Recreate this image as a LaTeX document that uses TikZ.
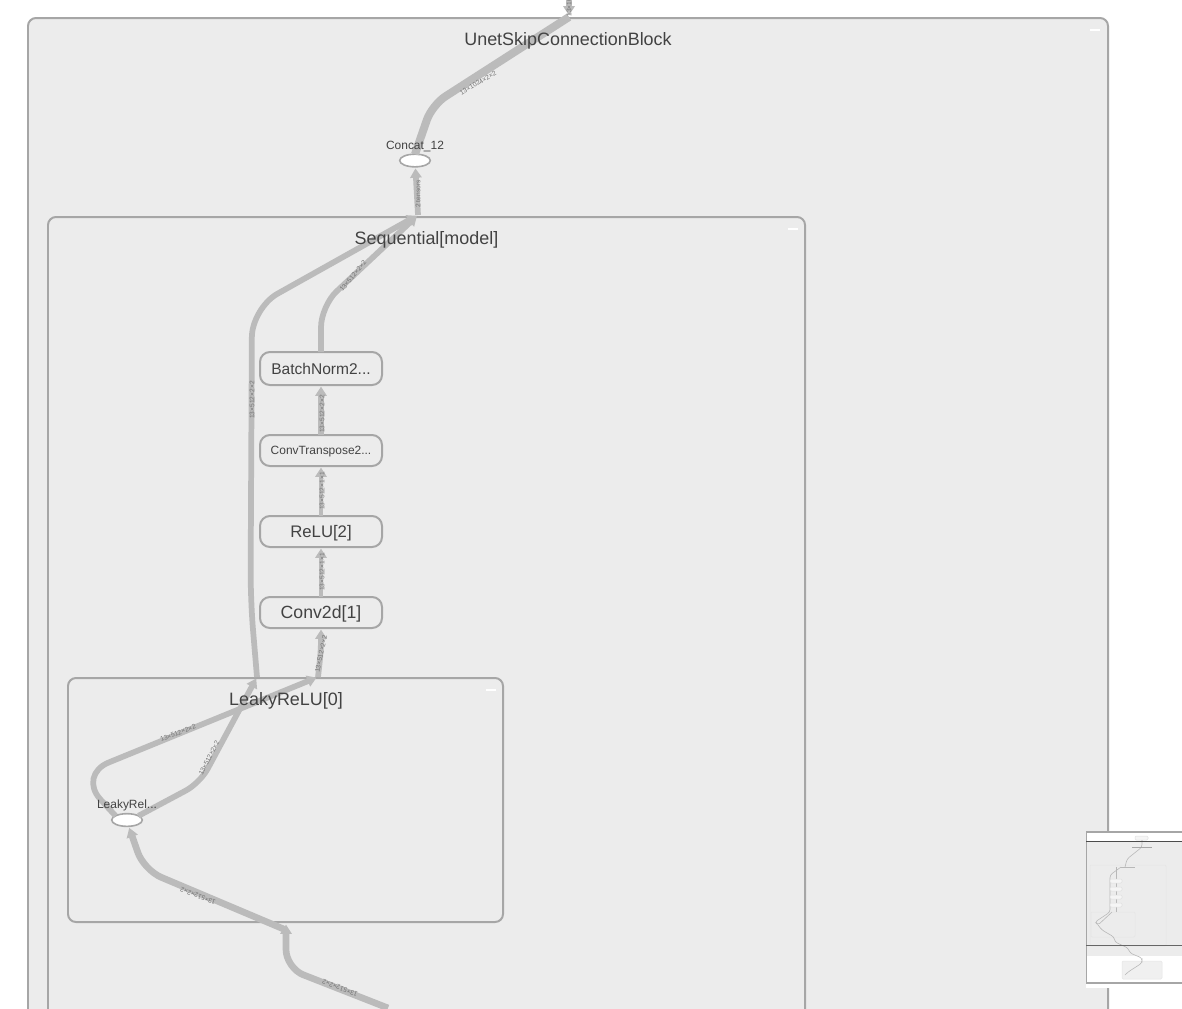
\documentclass[tikz,border=0pt]{standalone}
\usepackage{fontspec}
\setmainfont{Liberation Sans}
\usepackage{tikz}
\usetikzlibrary{positioning,shapes,arrows,arrows.meta,decorations.markings}
\definecolor{blockgray}{HTML}{ECECEC}
\definecolor{edgegray}{HTML}{BBBBBB}
\definecolor{bordergray}{HTML}{A6A6A6}
\definecolor{textgray}{HTML}{424242}
\newcommand{\midcap}[1]{\raisebox{-0.36em}[0pt][0pt]{#1}}
\tikzset{
	block/.style={draw=bordergray, fill=blockgray, line width=1.5pt, rounded corners=6pt, inner sep=0pt, outer sep=0pt, anchor=north west},
	layer/.style={block, rounded corners=7.5pt, minimum width=91.5bp, minimum height=23.25bp, text=textgray},
	opnode/.style={ellipse, draw=bordergray, fill=white, line width=1.2pt, minimum width=23bp, minimum height=9.5bp, inner sep=0pt, outer sep=0pt},
	title/.style={text=textgray, font=\fontsize{13.5}{14}\selectfont, inner sep=0pt},
	oplabel/.style={text=textgray, font=\fontsize{9}{10}\selectfont, inner sep=0pt},
	tensor/.style={text=black!55, font=\fontsize{5}{5}\selectfont, inner sep=0pt},
	collapse/.style={fill=white, inner sep=0pt, outer sep=0pt, minimum width=7bp, minimum height=1.5bp},
	flow/.style={draw=edgegray, line width=4.3bp, rounded corners=18pt},
	flowtip/.style={flow, shorten >=1.2pt, -{Triangle[length=7pt,width=8.5pt]}},
	minibox/.style={draw=black!10, fill=blockgray, line width=0.4pt, rounded corners=1pt},
	minipill/.style={draw=black!12, fill=black!4, line width=0.4pt, rounded corners=1pt},
	miniedge/.style={draw=black!28, line width=0.45pt, rounded corners=2pt},
}
\begin{document}
\begin{tikzpicture}[x=0.75bp, y=-0.75bp]
	\useasboundingbox (0,0) rectangle (1182,1008);
	\clip (0,0) rectangle (1182,1008);
	\fill[white] (0,0) rectangle (1182,1008);

	% boxes
	\node[block, minimum width=810bp, minimum height=800bp] (Unet) at (28,18) {};
	\node[block, minimum width=567.75bp, minimum height=700bp] (Seq) at (48,217) {};
	\node[block, minimum width=326.25bp, minimum height=183bp] (Leaky) at (68,678) {};
	\node[collapse] (UnetMin) at (1095,30) {};
	\node[collapse] (SeqMin) at (793,229) {};
	\node[collapse] (LeakyMin) at (491,690) {};

	% layers
	\node[layer, minimum height=24.75bp, font=\fontsize{11.7}{12}\selectfont] (BatchNorm) at (260,352) {\midcap{BatchNorm2...}};
	\node[layer, font=\fontsize{9}{10}\selectfont] (ConvT) at (260,435) {\midcap{ConvTranspose2...}};
	\node[layer, font=\fontsize{12.6}{14}\selectfont] (ReLU) at (260,516) {\midcap{ReLU[2]}};
	\node[layer, font=\fontsize{13.3}{14}\selectfont] (Conv) at (260,597) {\midcap{Conv2d[1]}};
	\node[opnode] (Concat) at (415,160.5) {};
	\node[opnode] (LeakyOp) at (127,820) {};

	% ports on the box borders
	\coordinate (TopIn) at (569,0);
	\coordinate (UnetIn) at (569,17);
	\coordinate (SeqOut) at (418,215);
	\coordinate (LeakyOutA) at (257,677);
	\coordinate (LeakyOutB) at (318,677);
	\coordinate (LeakyIn) at (286,930);
	\coordinate (LeakyInTip) at (286,923);
	\coordinate (BottomIn) at (388,1008);

	% connectors
	\draw[flowtip] (TopIn) -- (UnetIn);
	\draw[flow, line width=6bp, rounded corners=12pt] (UnetIn) -- (432,105) -- (Concat.north);
	\draw[flowtip] (SeqOut) -- (Concat);
	\draw[flowtip, rounded corners=22pt] (LeakyOutA) -- (250.5,600) -- (252,308) -- (SeqOut);
	\draw[flowtip, rounded corners=16pt] (BatchNorm.north) -- (321,306) -- (SeqOut);
	\draw[flowtip] (ConvT) -- (BatchNorm);
	\draw[flowtip, line width=3bp] (ReLU) -- (ConvT);
	\draw[flowtip, line width=3bp] (Conv) -- (ReLU);
	\draw[flowtip, rounded corners=8pt] (LeakyOutB) -- (321,650) -- (Conv.south);
	\draw[flowtip, rounded corners=25pt] (LeakyOp.160) -- (78,775) -- (LeakyOutB);
	\draw[flowtip, rounded corners=12pt] (LeakyOp.20) -- (200,783) -- (LeakyOutA);
	\draw[flowtip, line width=5bp, rounded corners=14pt] (LeakyIn) -- (144,870) -- (LeakyOp.-75);
	\draw[flowtip, line width=5bp, rounded corners=14pt] (BottomIn) -- (286,968) -- (LeakyInTip);

	% titles
	\node[title] (UnetTitle) at (568,40.5) {UnetSkipConnectionBlock};
	\node[title] (SeqTitle) at (426.5,239.5) {Sequential[model]};
	\node[title] (LeakyTitle) at (286,700.5) {LeakyReLU[0]};
	\node[oplabel] (ConcatLabel) at (415,146.5) {Concat\_12};
	\node[oplabel] (LeakyOpLabel) at (127,805.5) {LeakyRel...};

	% tensor sizes
	\node[tensor, rotate=90] (SizeTop) at (569,-4) {13×1024×2×2};
	\node[tensor, rotate=31] (SizeUnet) at (478,83) {13×1024×2×2};
	\node[tensor, rotate=90] (SizeConcat) at (418,194) {2 tensors};
	\node[tensor, rotate=90] (SizeSkip) at (252,400) {13×512×2×2};
	\node[tensor, rotate=50] (SizeBatch) at (353,276) {13×512×2×2};
	\node[tensor, rotate=90] (SizeConvT) at (322,414) {13×512×2×2};
	\node[tensor, rotate=90] (SizeReLU) at (322,491) {13×512×1×1};
	\node[tensor, rotate=90] (SizeConv) at (322,572) {13×512×1×1};
	\node[tensor, rotate=78] (SizeLeakyA) at (321,654) {13×512×2×2};
	\node[tensor, rotate=21] (SizeOpA) at (178,733) {13×512×2×2};
	\node[tensor, rotate=63] (SizeOpB) at (209,758) {13×512×2×2};
	\node[tensor, rotate=158] (SizeIn) at (198,896) {13×512×2×2};
	\node[tensor, rotate=158] (SizeBottom) at (340,988) {13×512×2×2};

	% minimap
	\fill[white] (1086,832) rectangle (1182,988);
	\fill[blockgray] (1087,842) rectangle (1182,956);
	\draw[minibox, fill=black!6] (1122,961) rectangle (1162,979);
	\draw[minibox] (1090,865) rectangle (1166,946);
	\draw[minibox] (1091,912) rectangle (1135,937);
	\draw[minipill] (1135,836) rectangle (1148,840);
	\draw[miniedge] (1142,840) -- (1142,847) -- (1127,859) -- (1125,867);
	\draw[miniedge] (1121,867) -- (1110,875) -- (1110,912) -- (1095,922) -- (1098,925) -- (1112,912);
	\draw[miniedge] (1116,867) -- (1116,912);
	\draw[miniedge] (1098,925) -- (1102,930) -- (1114,937) -- (1115,942) -- (1128,948) -- (1130,953) -- (1142,958) -- (1142,963) -- (1128,972) -- (1125,975);
	\draw[minipill] (1110,879) rectangle (1122,883);
	\draw[minipill] (1110,887) rectangle (1122,891);
	\draw[minipill] (1110,895) rectangle (1122,899);
	\draw[minipill] (1110,903) rectangle (1122,907);
	\fill[black!35] (1132,846.5) rectangle (1152,847.5);
	\fill[black!28] (1121,866.5) rectangle (1135,867.5);
	\draw[bordergray, line width=1pt] (1190,832) -- (1086.5,832) -- (1086.5,983) -- (1190,983);
	\fill[black!70] (1086,841) rectangle (1182,842);
	\fill[black!60] (1086,944.5) rectangle (1182,945.5);
\end{tikzpicture}
\end{document}
